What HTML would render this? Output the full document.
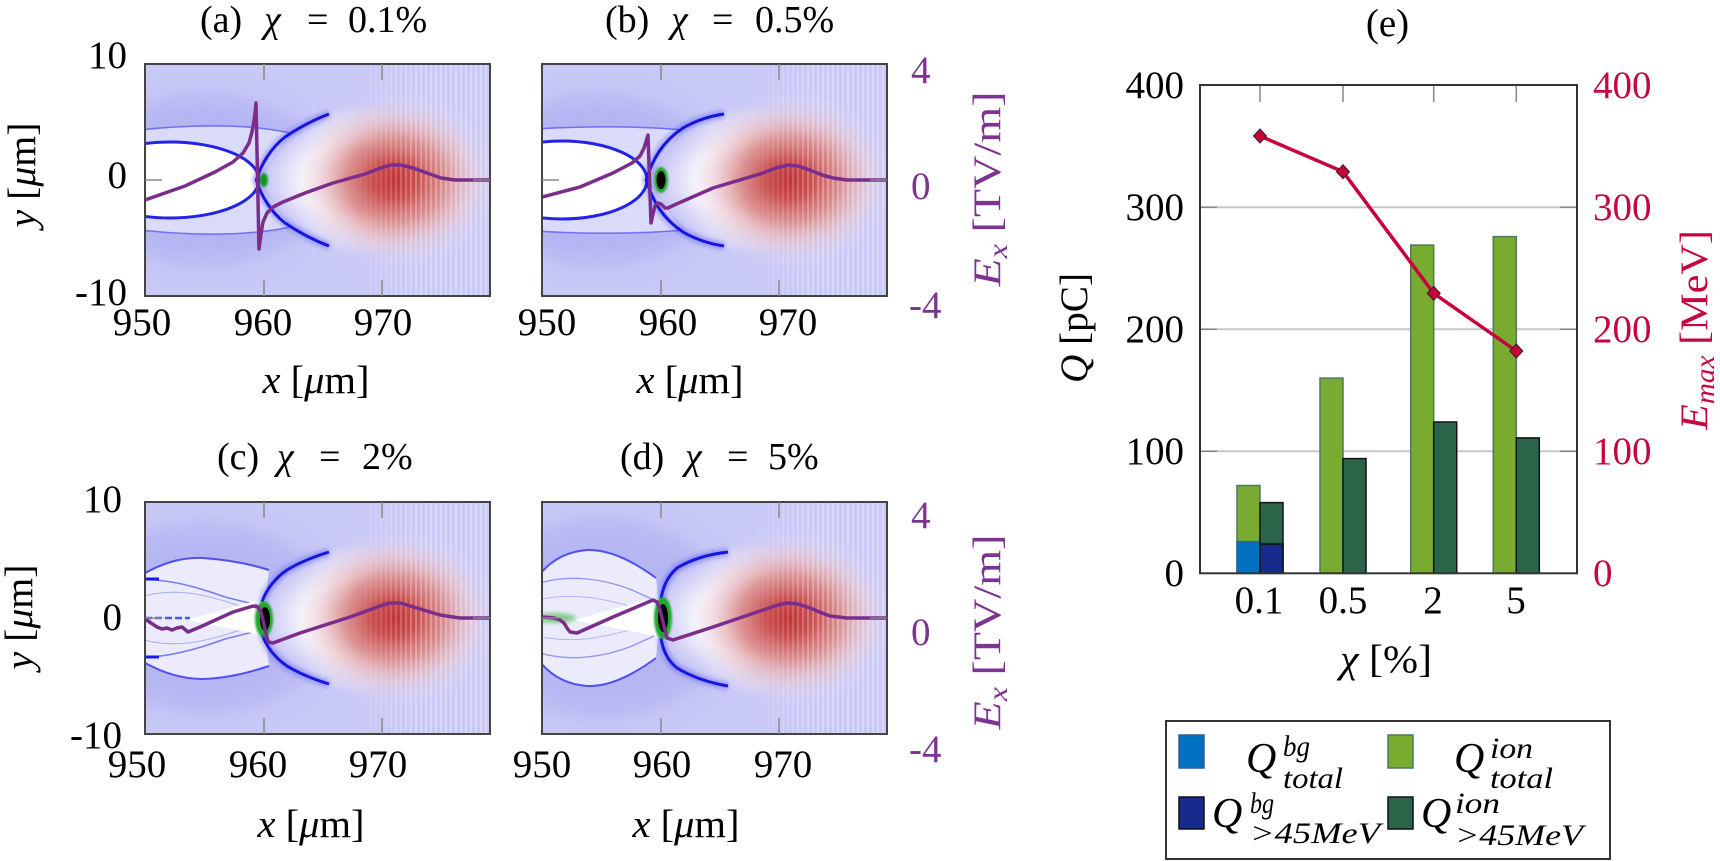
<!DOCTYPE html>
<html>
<head>
<meta charset="utf-8">
<style>
html,body{margin:0;padding:0;background:#fff;}
svg{display:block;}
svg text{font-family:"Liberation Serif","DejaVu Serif",serif;}
</style>
</head>
<body>
<svg width="1720" height="861" viewBox="0 0 1720 861" xmlns="http://www.w3.org/2000/svg" font-family="'Liberation Serif', 'DejaVu Serif', serif">
<defs>
  <clipPath id="cp"><rect x="0" y="0" width="345" height="232"/></clipPath>
  <filter id="b1" x="-50%" y="-50%" width="200%" height="200%"><feGaussianBlur stdDeviation="1"/></filter>
  <filter id="b2" x="-50%" y="-50%" width="200%" height="200%"><feGaussianBlur stdDeviation="2"/></filter>
  <filter id="b4" x="-50%" y="-50%" width="200%" height="200%"><feGaussianBlur stdDeviation="4"/></filter>
  <filter id="b12" x="-50%" y="-50%" width="200%" height="200%"><feGaussianBlur stdDeviation="12"/></filter>
  <radialGradient id="wG" cx="0.5" cy="0.5" r="0.5">
    <stop offset="0" stop-color="#ffffff" stop-opacity="1"/>
    <stop offset="0.55" stop-color="#ffffff" stop-opacity="0.9"/>
    <stop offset="0.82" stop-color="#f6f2fa" stop-opacity="0.4"/>
    <stop offset="1" stop-color="#ffffff" stop-opacity="0"/>
  </radialGradient>
  <radialGradient id="rG" cx="0.5" cy="0.5" r="0.5">
    <stop offset="0" stop-color="#c03434" stop-opacity="1"/>
    <stop offset="0.22" stop-color="#c84646" stop-opacity="0.95"/>
    <stop offset="0.48" stop-color="#d57a7a" stop-opacity="0.8"/>
    <stop offset="0.75" stop-color="#e8bcc4" stop-opacity="0.45"/>
    <stop offset="1" stop-color="#f0e8f4" stop-opacity="0"/>
  </radialGradient>
  <pattern id="stripes" x="0" y="0" width="5" height="10" patternUnits="userSpaceOnUse">
    <rect x="0" y="0" width="2" height="10" fill="#ffffff" opacity="0.28"/>
  </pattern>
  <linearGradient id="sf" x1="0" y1="0" x2="1" y2="0">
    <stop offset="0" stop-color="#000"/>
    <stop offset="0.45" stop-color="#fff"/>
    <stop offset="1" stop-color="#fff"/>
  </linearGradient>
  <mask id="sm" maskUnits="userSpaceOnUse" maskContentUnits="userSpaceOnUse" x="0" y="0" width="345" height="232">
    <rect x="210" y="0" width="135" height="232" fill="url(#sf)"/>
  </mask>
</defs>

<!-- ================= PANEL (a) ================= -->
<g transform="translate(145,64)">
  <g clip-path="url(#cp)">
    <rect width="345" height="232" fill="#c9c9f7"/>
    <ellipse cx="60" cy="116" rx="125" ry="85" fill="#a4a4f0" opacity="0.55" filter="url(#b12)"/>
    <ellipse cx="222" cy="116" rx="118" ry="74" fill="url(#wG)"/>
    <ellipse cx="250" cy="116" rx="105" ry="88" fill="url(#rG)"/>
    <rect x="210" y="0" width="135" height="232" fill="url(#stripes)" mask="url(#sm)"/>
    <path d="M-5,66 C40,61 100,59 145,69 L112,116 L145,163 C100,173 40,171 -5,166Z" fill="#fff" opacity="0.5"/>
    <path d="M-5,66 C40,61 100,59 145,69" fill="none" stroke="#5a5af0" stroke-width="1.5" opacity="0.8"/>
    <path d="M-5,166 C40,171 100,173 145,163" fill="none" stroke="#5a5af0" stroke-width="1.5" opacity="0.8"/>
    <ellipse cx="25" cy="116" rx="89" ry="38" fill="#fff" stroke="#2222e8" stroke-width="3"/>
    <path d="M111,117 C116,100 126,84 140,73 C155,63 168,56 184,50" fill="none" stroke="#3b3bf0" stroke-width="8" opacity="0.35" filter="url(#b2)"/>
    <path d="M111,115 C116,132 126,148 140,159 C155,169 168,176 184,182" fill="none" stroke="#3b3bf0" stroke-width="8" opacity="0.35" filter="url(#b2)"/>
    <path d="M111,117 C116,100 126,84 140,73 C155,63 168,56 184,50" fill="none" stroke="#1616e0" stroke-width="3"/>
    <path d="M111,115 C116,132 126,148 140,159 C155,169 168,176 184,182" fill="none" stroke="#1616e0" stroke-width="3"/>
    <ellipse cx="119" cy="116" rx="4" ry="7" fill="#0e9a1e" filter="url(#b1)"/>
    <polyline points="0,136 40,122 70,108 88,98 98,89 104,79 107,68 109,57 110.5,45 111,39 114,185 116,170 118,158 122,149 128,143 138,138 160,129 188,119 220,110 236,104 246,101 256,101 268,104 282,109 296,114 310,116 322,116 345,116" fill="none" stroke="#7b2d8c" stroke-width="3.5" stroke-linejoin="round"/>
  </g>
  <rect width="345" height="232" fill="none" stroke="#444" stroke-width="2"/>
  <g stroke="#888" stroke-width="1.5">
    <line x1="119" y1="0" x2="119" y2="16"/><line x1="237" y1="0" x2="237" y2="16"/>
    <line x1="119" y1="216" x2="119" y2="232"/><line x1="237" y1="216" x2="237" y2="232"/>
    <line x1="0" y1="116" x2="17" y2="116"/><line x1="328" y1="116" x2="345" y2="116"/>
  </g>
</g>

<!-- ================= PANEL (b) ================= -->
<g transform="translate(542,64)">
  <g clip-path="url(#cp)">
    <rect width="345" height="232" fill="#c9c9f7"/>
    <ellipse cx="55" cy="116" rx="125" ry="85" fill="#a4a4f0" opacity="0.55" filter="url(#b12)"/>
    <ellipse cx="220" cy="116" rx="120" ry="74" fill="url(#wG)"/>
    <ellipse cx="248" cy="116" rx="105" ry="88" fill="url(#rG)"/>
    <rect x="210" y="0" width="135" height="232" fill="url(#stripes)" mask="url(#sm)"/>
    <path d="M-5,65 C40,62 100,62 140,66 L104,116 L140,166 C100,170 40,170 -5,167Z" fill="#fff" opacity="0.5"/>
    <path d="M-5,65 C40,62 100,62 140,66" fill="none" stroke="#5a5af0" stroke-width="1.5" opacity="0.8"/>
    <path d="M-5,167 C40,170 100,170 140,166" fill="none" stroke="#5a5af0" stroke-width="1.5" opacity="0.8"/>
    <ellipse cx="20" cy="116" rx="85" ry="39" fill="#fff" stroke="#2222e8" stroke-width="3"/>
    <path d="M104,117 C110,96 120,78 141,64 C155,56 168,52 182,50" fill="none" stroke="#3b3bf0" stroke-width="8" opacity="0.35" filter="url(#b2)"/>
    <path d="M104,115 C110,136 120,154 141,168 C155,176 168,180 182,182" fill="none" stroke="#3b3bf0" stroke-width="8" opacity="0.35" filter="url(#b2)"/>
    <path d="M104,117 C110,96 120,78 141,64 C155,56 168,52 182,50" fill="none" stroke="#1616e0" stroke-width="3"/>
    <path d="M104,115 C110,136 120,154 141,168 C155,176 168,180 182,182" fill="none" stroke="#1616e0" stroke-width="3"/>
    <ellipse cx="119" cy="116" rx="7" ry="13" fill="#1aa82a" filter="url(#b1)"/>
    <ellipse cx="119" cy="116" rx="4.5" ry="9" fill="#000"/>
    <polyline points="0,133 38,123 71,109 90,99 98,92 102,84 104.5,76 106,71 109,159 111,150 113,142 116,139 119,140 123,144 126,144 130,142 171,124 221,109 234,104 246,101 256,102 268,106 280,111 291,114 305,116 321,116 345,116" fill="none" stroke="#7b2d8c" stroke-width="3.5" stroke-linejoin="round"/>
  </g>
  <rect width="345" height="232" fill="none" stroke="#444" stroke-width="2"/>
  <g stroke="#888" stroke-width="1.5">
    <line x1="119" y1="0" x2="119" y2="16"/><line x1="237" y1="0" x2="237" y2="16"/>
    <line x1="119" y1="216" x2="119" y2="232"/><line x1="237" y1="216" x2="237" y2="232"/>
    <line x1="0" y1="116" x2="17" y2="116"/><line x1="328" y1="116" x2="345" y2="116"/>
  </g>
</g>

<!-- ================= PANEL (c) ================= -->
<g transform="translate(145,502)">
  <g clip-path="url(#cp)">
    <rect width="345" height="232" fill="#c9c9f7"/>
    <ellipse cx="60" cy="116" rx="130" ry="95" fill="#a4a4f0" opacity="0.5" filter="url(#b12)"/>
    <ellipse cx="222" cy="116" rx="118" ry="74" fill="url(#wG)"/>
    <ellipse cx="250" cy="116" rx="105" ry="88" fill="url(#rG)"/>
    <rect x="210" y="0" width="135" height="232" fill="url(#stripes)" mask="url(#sm)"/>
    <path d="M-5,74 C15,62 35,55 58,56 C85,58 105,62 124,68 L118,116 L124,164 C105,170 85,176 58,177 C35,177 15,170 -5,158Z" fill="#fff" opacity="0.72"/>
    <path d="M-5,74 C15,62 35,55 58,56 C85,58 105,62 124,68" fill="none" stroke="#3a3aee" stroke-width="2" opacity="0.85"/>
    <path d="M-5,158 C15,170 35,177 58,177 C85,176 105,170 124,164" fill="none" stroke="#3a3aee" stroke-width="2" opacity="0.85"/>
    <path d="M-5,78 C20,76 50,84 80,95 L112,103" fill="none" stroke="#4a4af0" stroke-width="1.5" opacity="0.7"/>
    <path d="M-5,155 C20,156 50,148 80,137 L112,129" fill="none" stroke="#4a4af0" stroke-width="1.5" opacity="0.7"/>
    <path d="M-5,95 C30,85 60,92 95,104" fill="none" stroke="#7070f0" stroke-width="1" opacity="0.5"/>
    <path d="M-5,137 C30,147 60,140 95,128" fill="none" stroke="#7070f0" stroke-width="1" opacity="0.5"/>
    <line x1="-2" y1="77" x2="14" y2="77" stroke="#1a1ae6" stroke-width="3"/>
    <line x1="-2" y1="155" x2="14" y2="155" stroke="#1a1ae6" stroke-width="3"/>
    <path d="M42,118 L110,99 L112,132 Z" fill="#fff"/>
    <line x1="0" y1="116" x2="45" y2="116" stroke="#3040e0" stroke-width="2.5" stroke-dasharray="7 3" opacity="0.85"/>
    <path d="M117,100 C121,88 130,76 142,68 C155,60 168,55 184,50" fill="none" stroke="#3b3bf0" stroke-width="8" opacity="0.35" filter="url(#b2)"/>
    <path d="M117,132 C121,144 130,156 142,164 C155,172 168,177 184,182" fill="none" stroke="#3b3bf0" stroke-width="8" opacity="0.35" filter="url(#b2)"/>
    <path d="M117,100 C121,88 130,76 142,68 C155,60 168,55 184,50" fill="none" stroke="#1616e0" stroke-width="3"/>
    <path d="M117,132 C121,144 130,156 142,164 C155,172 168,177 184,182" fill="none" stroke="#1616e0" stroke-width="3"/>
    <ellipse cx="119" cy="117" rx="9" ry="18" fill="#1aa82a" filter="url(#b1)"/>
    <ellipse cx="120" cy="117" rx="5" ry="12" fill="#000"/>
    <polyline points="0,117 6,121 12,125 17,127 22,126 27,128 32,126 37,125 43,130 55,125 88,110 108,104 113,105 116,110 118,118 123,140 128,141 155,131 205,115 235,104 245,101 255,101 272,106 295,113 315,116 328,116 345,116" fill="none" stroke="#7b2d8c" stroke-width="3.5" stroke-linejoin="round"/>
  </g>
  <rect width="345" height="232" fill="none" stroke="#444" stroke-width="2"/>
  <g stroke="#888" stroke-width="1.5">
    <line x1="119" y1="0" x2="119" y2="16"/><line x1="237" y1="0" x2="237" y2="16"/>
    <line x1="119" y1="216" x2="119" y2="232"/><line x1="237" y1="216" x2="237" y2="232"/>
    <line x1="0" y1="116" x2="17" y2="116"/><line x1="328" y1="116" x2="345" y2="116"/>
  </g>
</g>

<!-- ================= PANEL (d) ================= -->
<g transform="translate(542,502)">
  <g clip-path="url(#cp)">
    <rect width="345" height="232" fill="#c9c9f7"/>
    <ellipse cx="60" cy="116" rx="130" ry="100" fill="#a4a4f0" opacity="0.5" filter="url(#b12)"/>
    <ellipse cx="220" cy="116" rx="120" ry="74" fill="url(#wG)"/>
    <ellipse cx="248" cy="116" rx="105" ry="88" fill="url(#rG)"/>
    <rect x="210" y="0" width="135" height="232" fill="url(#stripes)" mask="url(#sm)"/>
    <path d="M-5,76 C5,62 20,50 45,48 C70,47 95,62 114,76 L118,116 L114,156 C95,170 70,185 45,184 C20,182 5,170 -5,156Z" fill="#fff" opacity="0.72"/>
    <path d="M-5,76 C5,62 20,50 45,48 C70,47 95,62 114,76" fill="none" stroke="#3a3aee" stroke-width="2" opacity="0.85"/>
    <path d="M-5,156 C5,170 20,182 45,184 C70,185 95,170 114,156" fill="none" stroke="#3a3aee" stroke-width="2" opacity="0.85"/>
    <path d="M-5,82 C25,72 60,76 90,88 L112,98" fill="none" stroke="#5a5af0" stroke-width="1.3" opacity="0.6"/>
    <path d="M-5,150 C25,160 60,156 90,144 L112,134" fill="none" stroke="#5a5af0" stroke-width="1.3" opacity="0.6"/>
    <path d="M-5,98 C30,90 60,96 95,106" fill="none" stroke="#8080f0" stroke-width="1" opacity="0.5"/>
    <path d="M-5,134 C30,142 60,136 95,126" fill="none" stroke="#8080f0" stroke-width="1" opacity="0.5"/>
    <path d="M32,118 L112,96 L114,134 Z" fill="#fff"/>
    <ellipse cx="12" cy="116" rx="22" ry="5" fill="#3cb43c" opacity="0.6" filter="url(#b2)"/>
    <path d="M119,97 C121,85 125,75 135,66 C150,57 168,52 186,50" fill="none" stroke="#3b3bf0" stroke-width="8" opacity="0.35" filter="url(#b2)"/>
    <path d="M119,136 C121,148 125,158 135,166 C150,175 168,181 186,184" fill="none" stroke="#3b3bf0" stroke-width="8" opacity="0.35" filter="url(#b2)"/>
    <path d="M119,97 C121,85 125,75 135,66 C150,57 168,52 186,50" fill="none" stroke="#1616e0" stroke-width="3"/>
    <path d="M119,136 C121,148 125,158 135,166 C150,175 168,181 186,184" fill="none" stroke="#1616e0" stroke-width="3"/>
    <ellipse cx="121" cy="116" rx="9" ry="21" fill="#1aa82a" filter="url(#b1)"/>
    <ellipse cx="121" cy="116" rx="5" ry="14" fill="#000"/>
    <polyline points="0,115 12,116 18,118 22,121 25,126 28,130 35,131 71,115 111,98 115,100 118,108 121,120 125,136 131,138 171,125 221,108 236,103 246,101 256,102 268,106 280,111 288,114 305,116 321,116 345,116" fill="none" stroke="#7b2d8c" stroke-width="3.5" stroke-linejoin="round"/>
  </g>
  <rect width="345" height="232" fill="none" stroke="#444" stroke-width="2"/>
  <g stroke="#888" stroke-width="1.5">
    <line x1="119" y1="0" x2="119" y2="16"/><line x1="237" y1="0" x2="237" y2="16"/>
    <line x1="119" y1="216" x2="119" y2="232"/><line x1="237" y1="216" x2="237" y2="232"/>
    <line x1="0" y1="116" x2="17" y2="116"/><line x1="328" y1="116" x2="345" y2="116"/>
  </g>
</g>

<!-- ================= Titles ================= -->
<g font-size="38" fill="#000" font-family="'Liberation Serif', serif">
  <text y="32"><tspan x="200">(a)</tspan><tspan x="264" font-style="italic">χ</tspan><tspan x="307">=</tspan><tspan x="348">0.1%</tspan></text>
  <text y="32"><tspan x="605">(b)</tspan><tspan x="671" font-style="italic">χ</tspan><tspan x="712">=</tspan><tspan x="755">0.5%</tspan></text>
  <text y="469"><tspan x="217">(c)</tspan><tspan x="277" font-style="italic">χ</tspan><tspan x="319">=</tspan><tspan x="362">2%</tspan></text>
  <text y="469"><tspan x="620">(d)</tspan><tspan x="685" font-style="italic">χ</tspan><tspan x="727">=</tspan><tspan x="768">5%</tspan></text>
</g>

<!-- ================= Heatmap axis texts ================= -->
<g font-size="39" fill="#000" font-family="'Liberation Serif', serif">
  <text x="127" y="68" text-anchor="end">10</text>
  <text x="127" y="188" text-anchor="end">0</text>
  <text x="127" y="305" text-anchor="end">-10</text>
  <text x="122" y="512" text-anchor="end">10</text>
  <text x="122" y="630" text-anchor="end">0</text>
  <text x="122" y="748" text-anchor="end">-10</text>
  <text x="142" y="335" text-anchor="middle">950</text>
  <text x="263" y="335" text-anchor="middle">960</text>
  <text x="383" y="335" text-anchor="middle">970</text>
  <text x="547" y="335" text-anchor="middle">950</text>
  <text x="668" y="335" text-anchor="middle">960</text>
  <text x="788" y="335" text-anchor="middle">970</text>
  <text x="137" y="777" text-anchor="middle">950</text>
  <text x="258" y="777" text-anchor="middle">960</text>
  <text x="378" y="777" text-anchor="middle">970</text>
  <text x="542" y="777" text-anchor="middle">950</text>
  <text x="662" y="777" text-anchor="middle">960</text>
  <text x="783" y="777" text-anchor="middle">970</text>
  <text x="316" y="393" text-anchor="middle" textLength="107" lengthAdjust="spacingAndGlyphs"><tspan font-style="italic">x</tspan> [<tspan font-style="italic">μ</tspan>m]</text>
  <text x="690" y="393" text-anchor="middle" textLength="107" lengthAdjust="spacingAndGlyphs"><tspan font-style="italic">x</tspan> [<tspan font-style="italic">μ</tspan>m]</text>
  <text x="311" y="837" text-anchor="middle" textLength="107" lengthAdjust="spacingAndGlyphs"><tspan font-style="italic">x</tspan> [<tspan font-style="italic">μ</tspan>m]</text>
  <text x="686" y="837" text-anchor="middle" textLength="107" lengthAdjust="spacingAndGlyphs"><tspan font-style="italic">x</tspan> [<tspan font-style="italic">μ</tspan>m]</text>
  <text transform="translate(35,175) rotate(-90)" text-anchor="middle" textLength="105" lengthAdjust="spacingAndGlyphs"><tspan font-style="italic">y</tspan> [<tspan font-style="italic">μ</tspan>m]</text>
  <text transform="translate(32,617) rotate(-90)" text-anchor="middle" textLength="105" lengthAdjust="spacingAndGlyphs"><tspan font-style="italic">y</tspan> [<tspan font-style="italic">μ</tspan>m]</text>
</g>
<!-- E_x right axes -->
<g font-size="39" fill="#7d3391" font-family="'Liberation Serif', serif">
  <text x="911" y="83">4</text>
  <text x="911" y="199">0</text>
  <text x="909" y="318">-4</text>
  <text x="911" y="528">4</text>
  <text x="911" y="645">0</text>
  <text x="909" y="762">-4</text>
  <text transform="translate(1000,189) rotate(-90)" text-anchor="middle" textLength="195" lengthAdjust="spacingAndGlyphs"><tspan font-style="italic">E</tspan><tspan font-style="italic" font-size="27" dy="7">x</tspan><tspan dy="-7"> [TV/m]</tspan></text>
  <text transform="translate(1000,632) rotate(-90)" text-anchor="middle" textLength="195" lengthAdjust="spacingAndGlyphs"><tspan font-style="italic">E</tspan><tspan font-style="italic" font-size="27" dy="7">x</tspan><tspan dy="-7"> [TV/m]</tspan></text>
</g>

<!-- ================= BAR CHART (e) ================= -->
<g>
  <g stroke="#c8c8c8" stroke-width="2">
    <line x1="1200" y1="451.3" x2="1577" y2="451.3"/>
    <line x1="1200" y1="329.3" x2="1577" y2="329.3"/>
    <line x1="1200" y1="207.3" x2="1577" y2="207.3"/>
  </g>
  <g stroke="#888" stroke-width="1.5">
    <line x1="1200" y1="451.3" x2="1217" y2="451.3"/>
    <line x1="1200" y1="329.3" x2="1217" y2="329.3"/>
    <line x1="1200" y1="207.3" x2="1217" y2="207.3"/>
    <line x1="1560" y1="451.3" x2="1577" y2="451.3"/>
    <line x1="1560" y1="329.3" x2="1577" y2="329.3"/>
    <line x1="1560" y1="207.3" x2="1577" y2="207.3"/>
    <line x1="1200" y1="573.3" x2="1217" y2="573.3"/>
    <line x1="1560" y1="573.3" x2="1577" y2="573.3"/>
    <line x1="1260" y1="85" x2="1260" y2="102"/>
    <line x1="1343" y1="85" x2="1343" y2="102"/>
    <line x1="1433.7" y1="85" x2="1433.7" y2="102"/>
    <line x1="1516.3" y1="85" x2="1516.3" y2="102"/>
  </g>
  <g stroke-width="1.5">
    <rect x="1237" y="485.5" width="23" height="87.8" fill="#78ab30" stroke="#4a7a5a"/>
    <rect x="1237" y="541.6" width="23" height="31.7" fill="#0070c0" stroke="#2a5f9a"/>
    <rect x="1260" y="502.6" width="23" height="70.7" fill="#2a6449" stroke="#111"/>
    <rect x="1260" y="544.0" width="23" height="29.3" fill="#172b8c" stroke="#111"/>
    <rect x="1320" y="378.1" width="23" height="195.2" fill="#78ab30" stroke="#4a7a5a"/>
    <rect x="1343" y="458.6" width="23" height="114.7" fill="#2a6449" stroke="#111"/>
    <rect x="1410.7" y="245.1" width="23" height="328.2" fill="#78ab30" stroke="#4a7a5a"/>
    <rect x="1433.7" y="422.0" width="23" height="151.3" fill="#2a6449" stroke="#111"/>
    <rect x="1493.3" y="236.6" width="23" height="336.7" fill="#78ab30" stroke="#4a7a5a"/>
    <rect x="1516.3" y="437.9" width="23" height="135.4" fill="#2a6449" stroke="#111"/>
  </g>
  <rect x="1200" y="85" width="377" height="488.3" fill="none" stroke="#333" stroke-width="2"/>
  <polyline points="1260,136 1343,171.7 1433.7,293.3 1516.3,351" fill="none" stroke="#c8003c" stroke-width="3.5" stroke-linejoin="round"/>
  <g fill="#c8003c" stroke="#222" stroke-width="1">
    <path d="M1260,129 L1266.5,136 L1260,143 L1253.5,136Z"/>
    <path d="M1343,164.7 L1349.5,171.7 L1343,178.7 L1336.5,171.7Z"/>
    <path d="M1433.7,286.3 L1440.2,293.3 L1433.7,300.3 L1427.2,293.3Z"/>
    <path d="M1516.3,344 L1522.8,351 L1516.3,358 L1509.8,351Z"/>
  </g>
  <g font-size="39" fill="#000" font-family="'Liberation Serif', serif">
    <text x="1387.5" y="36" text-anchor="middle">(e)</text>
    <text x="1184" y="98" text-anchor="end">400</text>
    <text x="1184" y="220" text-anchor="end">300</text>
    <text x="1184" y="342" text-anchor="end">200</text>
    <text x="1184" y="464" text-anchor="end">100</text>
    <text x="1184" y="586" text-anchor="end">0</text>
    <text x="1259" y="613" text-anchor="middle">0.1</text>
    <text x="1343" y="613" text-anchor="middle">0.5</text>
    <text x="1433" y="613" text-anchor="middle">2</text>
    <text x="1516" y="613" text-anchor="middle">5</text>
    <text x="1386" y="672" text-anchor="middle" textLength="92" lengthAdjust="spacingAndGlyphs"><tspan font-style="italic">χ</tspan> [%]</text>
    <text transform="translate(1087,328) rotate(-90)" text-anchor="middle" textLength="110" lengthAdjust="spacingAndGlyphs"><tspan font-style="italic">Q</tspan> [pC]</text>
  </g>
  <g font-size="39" fill="#c4073f" font-family="'Liberation Serif', serif">
    <text x="1593" y="98">400</text>
    <text x="1593" y="220">300</text>
    <text x="1593" y="342">200</text>
    <text x="1593" y="464">100</text>
    <text x="1593" y="586">0</text>
    <text transform="translate(1707,330) rotate(-90)" text-anchor="middle" textLength="200" lengthAdjust="spacingAndGlyphs"><tspan font-style="italic">E</tspan><tspan font-style="italic" font-size="27" dy="7">max</tspan><tspan dy="-7"> [MeV]</tspan></text>
  </g>
</g>

<!-- ================= LEGEND ================= -->
<g>
  <rect x="1166" y="721" width="444" height="138" fill="#fff" stroke="#333" stroke-width="2"/>
  <rect x="1179" y="735" width="25" height="33" fill="#0070c0" stroke="#2a5f9a" stroke-width="1.5"/>
  <rect x="1179" y="797" width="25" height="32" fill="#172b8c" stroke="#111" stroke-width="1.5"/>
  <rect x="1388" y="735" width="25" height="33" fill="#78ab30" stroke="#4a7a5a" stroke-width="1.5"/>
  <rect x="1388" y="797" width="25" height="32" fill="#2a6449" stroke="#111" stroke-width="1.5"/>
  <g font-style="italic" fill="#000" font-family="'Liberation Serif', serif">
    <text x="1246" y="772" font-size="42">Q</text>
    <text x="1283" y="756" font-size="30" textLength="27" lengthAdjust="spacingAndGlyphs">bg</text>
    <text x="1283" y="788" font-size="30" textLength="60" lengthAdjust="spacingAndGlyphs">total</text>

    <text x="1212" y="827" font-size="42">Q</text>
    <text x="1250" y="813" font-size="30" textLength="24" lengthAdjust="spacingAndGlyphs">bg</text>
    <text x="1250" y="843" font-size="30" textLength="130" lengthAdjust="spacingAndGlyphs">&gt;45MeV</text>

    <text x="1454" y="772" font-size="42">Q</text>
    <text x="1490" y="758" font-size="30" textLength="43" lengthAdjust="spacingAndGlyphs">ion</text>
    <text x="1490" y="788" font-size="30" textLength="63" lengthAdjust="spacingAndGlyphs">total</text>

    <text x="1421" y="827" font-size="42">Q</text>
    <text x="1455" y="813" font-size="30" textLength="45" lengthAdjust="spacingAndGlyphs">ion</text>
    <text x="1455" y="845" font-size="30" textLength="128" lengthAdjust="spacingAndGlyphs">&gt;45MeV</text>
  </g>
</g>
</svg>
</body>
</html>
